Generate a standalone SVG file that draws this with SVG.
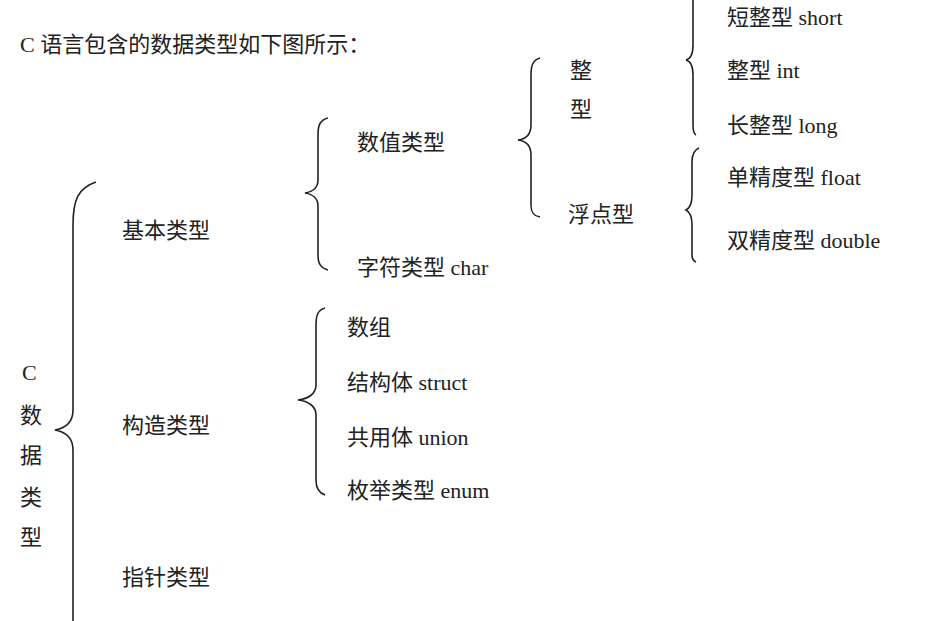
<svg xmlns="http://www.w3.org/2000/svg" width="929" height="621" viewBox="0 0 929 621">
<style>
text{font-family:"Liberation Serif","Noto Sans CJK SC",serif;font-size:22px;fill:#222}
.b{fill:none;stroke:#222;stroke-width:1.6}
</style>
<rect width="929" height="621" fill="#fff"/>
<g id="connectors">
<path class="b" d="M96,182 C78,188 73,200 73,225 L73,410 C73,422 66,428 55,430 C66,432 73,438 73,450 L73,621"/>
<path class="b" d="M328,118 C320,120 318,125 318,135 L318,180 C318,188 312,192 305,193 C312,194 318,198 318,206 L318,255 C318,264 321,268 328,270"/>
<path class="b" d="M325,308 C318,310 316,315 316,325 L316,385 C316,394 308,399 298,400 C308,401 316,406 316,415 L316,480 C316,489 319,493 325,495"/>
<path class="b" d="M540,58 C533,60 531,65 531,75 L531,125 C531,134 526,139 518,140 C526,141 531,146 531,155 L531,205 C531,213 534,216 540,217"/>
<path class="b" d="M693,0 L693,45 C693,54 690,59 686,60 C690,61 693,66 693,75 L693,125 C693,131 694,134 696,135"/>
<path class="b" d="M699,148 C694,150 692,154 692,162 L692,195 C692,203 690,208 686,210 C690,212 692,217 692,225 L692,255 C692,259 694,261 696,262"/>
</g>
<text x="20" y="52">C 语言包含的数据类型如下图所示：</text>
<g id="root"><text x="22" y="380">C</text><text x="20" y="423">数</text><text x="20" y="463">据</text><text x="20" y="505">类</text><text x="20" y="545">型</text></g>
<g id="basic"><text x="122" y="238">基本类型</text></g>
<g id="construct"><text x="122" y="433">构造类型</text></g>
<g id="pointer"><text x="122" y="585">指针类型</text></g>
<g id="numeric"><text x="357" y="150">数值类型</text></g>
<g id="char"><text x="357" y="275">字符类型 char</text></g>
<g id="array"><text x="347" y="335">数组</text></g>
<g id="struct"><text x="347" y="390">结构体 struct</text></g>
<g id="union"><text x="347" y="445">共用体 union</text></g>
<g id="enum"><text x="347" y="498">枚举类型 enum</text></g>
<g id="integer"><text x="570" y="78">整</text><text x="570" y="117">型</text></g>
<g id="float"><text x="568" y="222">浮点型</text></g>
<g id="short"><text x="727" y="25">短整型 short</text></g>
<g id="int"><text x="727" y="78">整型 int</text></g>
<g id="long"><text x="727" y="133">长整型 long</text></g>
<g id="single"><text x="727" y="185">单精度型 float</text></g>
<g id="double"><text x="727" y="248">双精度型 double</text></g>
</svg>
